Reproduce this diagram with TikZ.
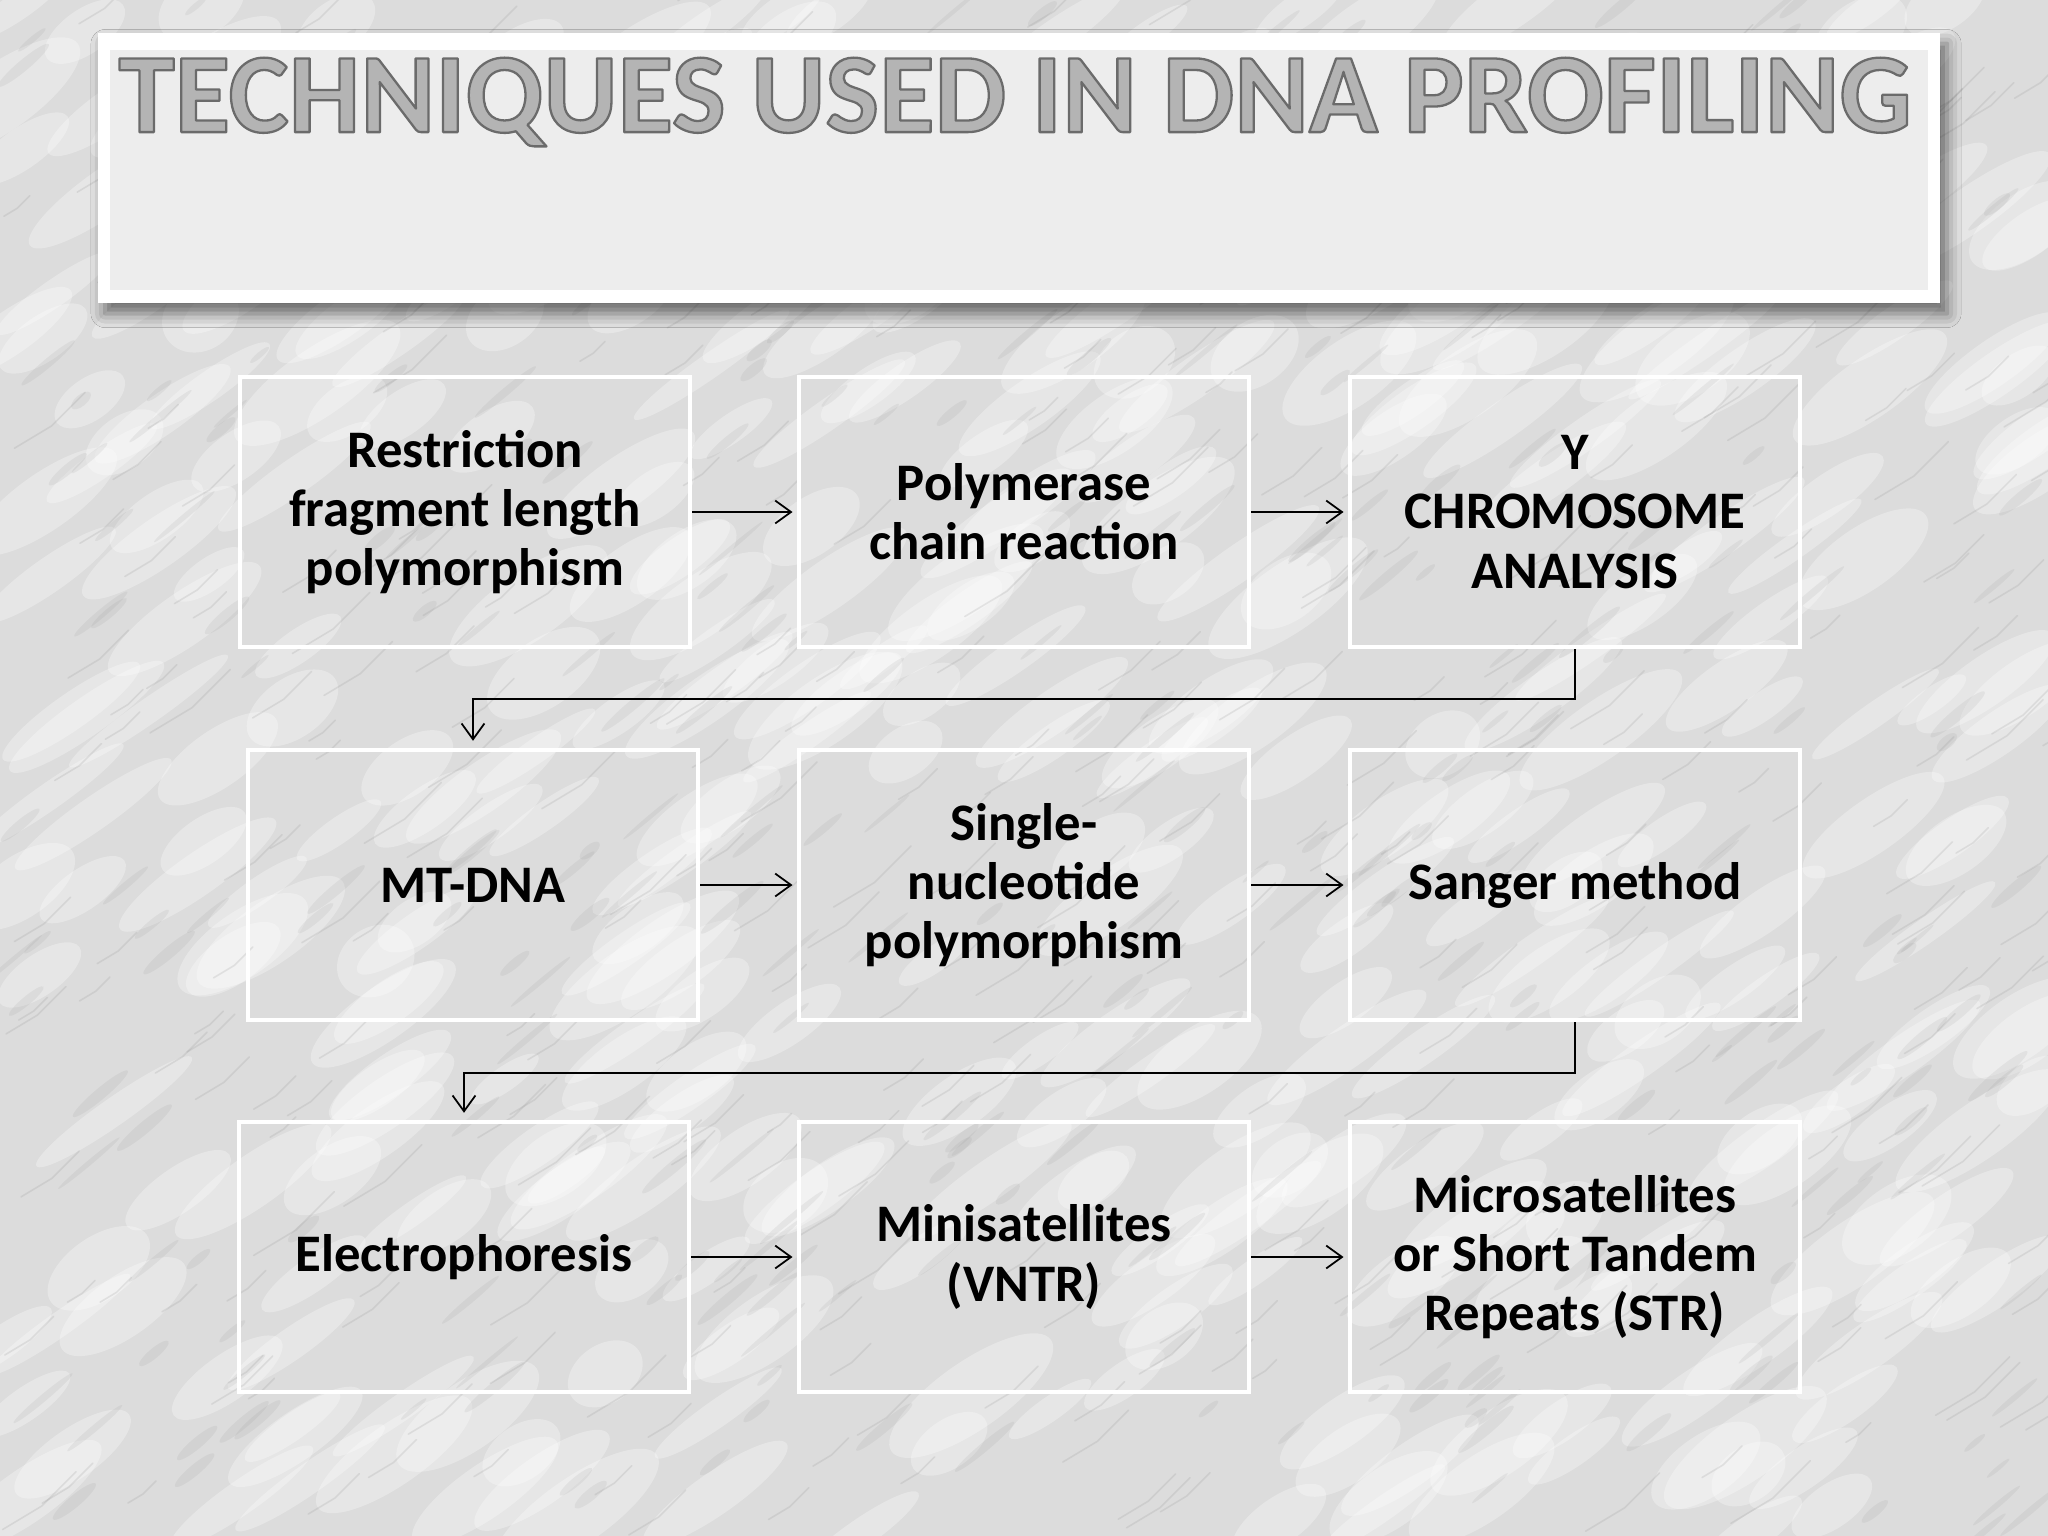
\documentclass[tikz,border=0pt]{standalone}
\usepackage{fontspec}
\setmainfont{Carlito}
\usetikzlibrary{arrows.meta,shadows.blur}
\definecolor{marble}{HTML}{DCDCDC}
\definecolor{marbledark}{HTML}{8C8C8C}
\definecolor{bannerfill}{HTML}{EDEDED}
\definecolor{titlefill}{HTML}{B4B4B4}
\newcommand{\outlinetext}[1]{\special{pdf:code q 2 Tr 0.65 w 0.42 G 1 j}#1\special{pdf:code Q}}
\begin{document}
\begin{tikzpicture}[x=0.01cm,y=-0.01cm,
  box/.style={draw=white, line width=1.2pt, minimum width=4.5cm, minimum height=2.7cm,
    inner sep=2pt, align=center, text=black,
    font=\bfseries\fontsize{15}{16.8}\selectfont},
  conn/.style={draw=black, line width=0.5pt, -{Straight Barb[length=4.5pt,width=6.5pt]}},
  titletext/.style={font=\bfseries\fontsize{32.3}{36}\selectfont, inner sep=0pt, text=titlefill}]
% background
\useasboundingbox (0,0) rectangle (2048,1536);
\fill[marble] (0,0) rectangle (2048,1536);
\pgfmathsetseed{11}
\foreach \i in {1,...,420} {
  \pgfmathsetmacro\xx{rnd*2048}
  \pgfmathsetmacro\yy{rnd*1536}
  \pgfmathsetmacro\ra{40+rnd*60}
  \pgfmathsetmacro\rb{12+rnd*22}
  \fill[white, opacity=0.3, rotate around={35:(\xx,\yy)}] (\xx,\yy) ellipse[x radius=\ra, y radius=\rb];
}
\foreach \i in {1,...,300} {
  \pgfmathsetmacro\xx{rnd*2048}
  \pgfmathsetmacro\yy{rnd*1536}
  \pgfmathsetmacro\ra{12+rnd*30}
  \pgfmathsetmacro\rb{2+rnd*4}
  \fill[marbledark, opacity=0.12, rotate around={40:(\xx,\yy)}] (\xx,\yy) ellipse[x radius=\ra, y radius=\rb];
}
\foreach \i in {1,...,380} {
  \pgfmathsetmacro\xx{rnd*2048}
  \pgfmathsetmacro\yy{rnd*1536}
  \pgfmathsetmacro\len{25+rnd*60}
  \draw[marbledark, opacity=0.18, line width=0.45pt, line cap=round]
    (\xx,\yy) -- ++(0.5*\len,-0.3*\len) -- ++(0.45*\len,-0.45*\len);
}
% title banner
\path[fill=white, blur shadow={shadow xshift=2pt, shadow yshift=-3pt, shadow blur radius=4pt, shadow opacity=55}]
  (98,33) rectangle (1940,303);
\fill[bannerfill] (110,50) rectangle (1928,290);
\node[titletext] (title) at (1015,102) {\outlinetext{TECHNIQUES USED IN DNA PROFILING}};
% boxes
\node[box] (rflp)    at (465,512)  {Restriction\\fragment length\\polymorphism};
\node[box] (pcr)     at (1024,512) {Polymerase\\chain reaction};
\node[box] (ychr)    at (1575,512) {Y\\CHROMOSOME\\ANALYSIS};
\node[box] (mtdna)   at (473,885)  {MT-DNA};
\node[box] (snp)     at (1024,885) {Single-\\nucleotide\\polymorphism};
\node[box] (sanger)  at (1575,885) {Sanger method};
\node[box] (electro) at (464,1257) {Electrophoresis};
\node[box] (mini)    at (1024,1257) {Minisatellites\\(VNTR)};
\node[box] (micro)   at (1575,1257) {Microsatellites\\or Short Tandem\\Repeats (STR)};
% connectors
\draw[conn, shorten >=1.2pt] (rflp.east) -- (pcr.west);
\draw[conn, shorten >=1.2pt] (pcr.east) -- (ychr.west);
\draw[conn, shorten >=1.2pt] (mtdna.east) -- (snp.west);
\draw[conn, shorten >=1.2pt] (snp.east) -- (sanger.west);
\draw[conn, shorten >=1.2pt] (electro.east) -- (mini.west);
\draw[conn, shorten >=1.2pt] (mini.east) -- (micro.west);
\draw[conn, shorten >=2pt] (ychr.south) -- ++(0,50) -| (mtdna.north);
\draw[conn, shorten >=2pt] (sanger.south) -- ++(0,51) -| (electro.north);
\end{tikzpicture}
\end{document}
